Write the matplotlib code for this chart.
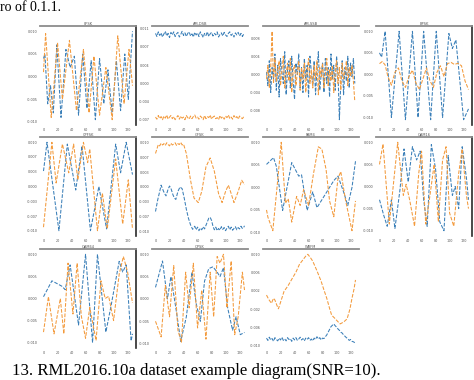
import matplotlib
matplotlib.use('Agg')
import matplotlib.pyplot as plt
import numpy as np

# RML2016.10a example frames (x1e-3)
titles = ['8PSK', 'AM-DSB', 'AM-SSB', 'BPSK', 'CPFSK', 'GFSK',
          'PAM4', 'QAM16', 'QAM64', 'QPSK', 'WBFM']
x_ticks = [0, 20, 40, 60, 80, 100, 120]

# 8PSK
psk8_i_x = [0, 2, 6, 10, 14, 19, 25, 32, 38, 44, 50, 56, 62, 68, 74, 80, 86, 92, 98, 104, 110, 116, 121, 127]
psk8_i = [4, 5, -6, -2, -8, 7, -9, 6, 2, 4.5, -8.5, 5, -7, 3.5, -9.5, 4, -6, 1.5, -8, 3.5, -7.5, 5, -5, 10]
psk8_q_x = [0, 3, 11, 20, 27, 37, 47, 57, 65, 72, 80, 89, 98, 106, 115, 122, 127]
psk8_q = [1, 9.5, -9, 7.5, -5, 8, -7.5, 6, -8, 4.5, -8.5, 2, -9.5, 9, -6, 6, -2]

# AM-DSB (every 2nd sample)
amdsb_i = [9.6, 9.0, 9.9, 9.2, 9.7, 8.9, 9.5, 10.0, 9.1, 9.6, 8.8, 9.8, 9.3, 9.9, 9.0, 9.5,
           9.8, 8.9, 9.4, 10.0, 9.2, 9.7, 9.0, 9.6, 9.9, 9.1, 9.5, 8.9, 9.8, 9.3, 9.7, 9.0,
           9.9, 9.4, 8.8, 9.6, 9.2, 9.9, 9.0, 9.5, 9.8, 9.1, 9.6, 9.3, 9.9, 8.9, 9.4, 9.7,
           9.1, 9.8, 9.3, 9.0, 9.6, 9.9, 9.2, 9.5, 8.9, 9.7, 9.3, 9.8, 9.1, 9.6, 9.0, 9.5]
amdsb_q = [-6.5, -6.9, -6.2, -6.8, -6.4, -7.0, -6.3, -6.7, -6.1, -6.9, -6.5, -6.2, -6.8, -6.4, -7.0, -6.6,
           -6.2, -6.9, -6.3, -6.7, -6.5, -7.0, -6.2, -6.6, -6.9, -6.3, -6.8, -6.4, -6.1, -6.7, -6.5, -6.9,
           -6.3, -6.6, -7.0, -6.2, -6.8, -6.4, -6.6, -6.1, -6.9, -6.5, -6.3, -6.8, -6.6, -7.0, -6.2, -6.7,
           -6.4, -6.9, -6.3, -6.6, -6.1, -6.8, -6.5, -6.9, -6.2, -6.7, -6.4, -6.9, -6.3, -6.6, -6.8, -6.4]

# AM-SSB (every 2nd sample)
amssb_i = [0.5, -2.5, 3.0, -4.0, 1.5, -1.0, 4.5, -3.5, 2.0, -5.0, 3.5, 0.5, -2.0, 5.0, -4.5, 1.0,
           3.0, -3.0, 4.0, -1.5, -5.5, 2.5, 0.0, 4.5, -3.0, 1.5, -4.0, 3.5, -1.0, 2.0, -5.0, 4.0,
           0.5, -2.5, 3.0, -4.5, 1.0, 5.0, -3.5, 0.0, 2.5, -4.0, 3.5, -2.0, 1.5, -5.0, 4.5, -1.0,
           2.0, -3.5, 4.0, 0.5, -10.0, -2.0, 3.0, -4.5, 1.5, -1.5, 4.0, -3.0, 2.5, -0.5, 3.5, -2.0]
amssb_q = [-1.0, 2.0, -3.0, 1.5, 9.5, -2.0, 3.5, -1.5, 0.5, 3.0, -2.5, 1.0, 4.0, -3.0, 0.0, 2.5,
           -1.5, 3.5, -4.0, 1.0, 2.0, -2.5, 0.5, 3.0, -3.5, 1.5, -1.0, 2.5, -4.0, 0.5, 3.5, -2.0,
           1.0, -3.0, 2.0, -1.0, 3.0, -4.5, 1.5, -0.5, 2.5, -3.0, 0.0, 3.5, -2.5, 1.0, -1.5, 2.0,
           -4.0, 0.5, 3.0, -2.0, 1.5, -3.5, 2.5, -1.0, 0.5, 3.0, -2.5, 1.5, -0.5, 2.0, -1.5, -6.0]

# BPSK
bpsk_i_x = [0, 3, 8, 17, 28, 37, 47, 55, 63, 73, 81, 90, 99, 104, 109, 120, 127]
bpsk_i = [5, 4, 10, -10, 10, -10.5, 10, -10, 10, -10.5, 10, -10, 9.5, 6, 8, -10.5, -8]
bpsk_q_x = [0, 4, 8, 12, 17, 22, 27, 32, 37, 42, 47, 52, 57, 62, 67, 72, 77, 82, 87, 92, 97, 102, 107, 112, 117, 122, 127]
bpsk_q = [2.5, 3.0, 2.2, -0.5, -2.5, 0.5, 1.5, -1.5, -3.0, -0.5, 1.0, -2.0, -3.5, -1.0, 1.5, -1.5,
          -3.0, 0.5, 2.0, -0.5, 2.5, 2.8, 2.3, 2.6, 2.0, -1.5, -3.5]

# CPFSK
cpfsk_i_x = [0, 5, 22, 34, 46, 55, 67, 79, 90, 103, 110, 118, 127]
cpfsk_i = [3.5, 10, -10, 9.6, -0.8, 9.2, -10, 0, -9.6, 9.6, 3.1, 10, 2.7]
cpfsk_q_x = [0, 12, 18, 27, 36, 43, 49, 57, 63, 66, 77, 84, 91, 103, 113, 121, 127]
cpfsk_q = [-9.2, 10, 0.8, 9.6, 3.1, 9.6, 1.5, 10, 5.4, 8.5, -10, -1.5, -9.6, 6.2, -8.5, 1.5, -9.6]

# GFSK
gfsk_i_x = [0, 3, 6, 8, 11, 13, 15, 18, 20, 22, 25, 27, 29, 32, 35, 38, 41, 44, 47, 50, 53, 56, 58,
            60, 62, 64, 66, 68, 70, 72, 74, 76, 78, 80, 82, 84, 86, 88, 90, 92, 94, 96, 98, 100,
            102, 104, 106, 108, 110, 112, 114, 116, 118, 120, 122, 124, 126, 127]
gfsk_i = [-5.5, -3.0, -1.0, 0.4, -0.8, -1.5, -2.0, -0.5, 0.2, -0.3, -1.8, -2.5, -2.8, -1.0, 0.0,
          -0.4, -2.5, -5.0, -7.0, -8.5, -9.5, -8.8, -9.6, -9.0, -9.8, -9.2, -9.6, -8.9, -9.4, -8.6,
          -7.8, -7.0, -6.8, -7.5, -8.8, -9.6, -9.0, -9.8, -9.3, -9.7, -8.9, -9.5, -9.1, -9.8, -9.2,
          -8.8, -9.6, -9.0, -9.7, -9.3, -8.9, -9.6, -9.1, -9.4, -8.8, -9.3, -9.0, -8.7]
gfsk_q_x = [0, 2, 4, 6, 8, 10, 12, 14, 16, 18, 20, 22, 24, 26, 28, 30, 32, 34, 36, 38, 40,
            44, 50, 55, 61, 66, 72, 78, 84, 90, 95, 100, 104, 108, 112, 118, 123, 127]
gfsk_q = [7.5, 8.5, 9.5, 9.2, 9.8, 9.4, 9.7, 9.3, 9.9, 9.5, 9.2, 9.8, 9.4, 9.6, 9.9, 9.3, 9.7,
          9.5, 10.0, 9.4, 9.6, 7.5, 1.5, -2.5, -3.5, -1.0, 4.5, 6.5, 3.5, -1.5, -3.5, -1.0, 0.4,
          -1.5, -3.5, -1.0, 1.5, 0.5]

# PAM4
pam4_i_x = [0, 10, 14, 23, 36, 46, 50, 58, 66, 72, 82, 96, 102, 110, 116, 122, 127]
pam4_i = [5.1, 6.6, 4.7, -5.1, 5.5, 2.5, 2.8, -5.1, -1, -4.5, -2, 1.5, 2.5, -1, -4, 0, 5.8]
pam4_q_x = [0, 2, 9, 15, 21, 27, 31, 36, 43, 48, 53, 60, 67, 74, 79, 85, 90, 96, 102, 106, 113, 122, 127]
pam4_q = [-5, -6.6, -9.6, 0, 10, -3.5, -2.5, -7.7, -2, -4, -0.5, -4, 3, 9, 8.5, 4, -3, -6.5, 2, 3.5, -3, -9.6, -3]

# QAM16
qam16_i_x = [0, 6, 11, 17, 22, 29, 35, 41, 47, 53, 58, 63, 68, 74, 80, 86, 92, 98, 104, 108, 113, 118, 124, 127]
qam16_i = [-3, -6.5, -9, -3, -9.5, -1, 8.5, 1, 9, 6, 8, -3, -9, 9.5, 4, -8, -10, 7, -2, 0, -5, 9, 2, -3]
qam16_q_x = [0, 5, 14, 26, 34, 38, 43, 50, 56, 60, 66, 72, 78, 84, 90, 95, 100, 106, 113, 118, 124, 127]
qam16_q = [5, 9.6, -8.5, 10, -2, 0.5, -3, -9, 3, 8, -8.5, -2, 5, -8, 6, 9, -6, -9, 3, 8.5, -2, -5]

# QAM64
qam64_i_x = [0, 12, 26, 31, 38, 50, 60, 70, 77, 89, 96, 108, 113, 118, 125, 127]
qam64_i = [0.4, 4, 2.8, 2, 7.6, -6, 10, -10, 10, -7.6, -2, 8.4, 6, 7.6, -9.6, -8]
qam64_q_x = [0, 7, 15, 24, 29, 35, 42, 48, 54, 60, 66, 75, 82, 88, 93, 100, 108, 114, 120, 127]
qam64_q = [-7.6, 0.4, -8, 0, -8, 8, -3.5, 8, -4, -9, -2, -9.5, 4, 0, 0.5, -5, 5.5, 9.5, 6, -1]

# QPSK
qpsk_i_x = [0, 10, 17, 22, 30, 36, 44, 52, 58, 64, 70, 76, 82, 88, 92, 97, 103, 110, 115, 121, 127]
qpsk_i = [2.6, 8.5, 0, 5, -3, -9.5, -4, 6, -1, -5, 4, 6.8, 7.2, 6, 5, 7, -2, -7, -4, -8, -7.5]
qpsk_q_x = [0, 8, 14, 20, 26, 32, 37, 43, 48, 54, 60, 66, 72, 78, 83, 88, 92, 97, 102, 108, 113, 118, 124, 127]
qpsk_q = [-5, -8.5, 3, -4, 7.5, -7, -9.8, 6, -2, 8, -6.5, 2, -9, 6, -4, 9.5, 8, 10, -2, 8.5, -8, -4, 6, 2]

# WBFM
wbfm_i = [-8.3, -8.8, -8.1, -8.7, -8.4, -9.0, -8.2, -8.6, -8.9, -8.3, -8.7, -8.1, -8.8, -8.5, -8.9, -8.2,
          -8.6, -8.4, -9.0, -8.3, -8.7, -8.2, -8.8, -8.5, -8.1, -8.7, -8.4, -8.9, -8.3, -8.6, -8.2, -8.8,
          -8.5, -8.9, -8.3, -8.6, -8.0, -8.5, -8.2, -8.7, -8.3, -8.4, -8.0, -7.6, -7.0, -6.4, -5.8, -5.5,
          -5.2, -5.6, -5.9, -6.3, -6.6, -7.0, -7.2, -7.6, -7.9, -8.2, -8.4, -8.8, -8.6, -9.0, -9.1, -9.3]
wbfm_q_x = [0, 3, 7, 10, 12, 15, 17, 20, 25, 31, 37, 42, 47, 52, 56, 59, 63, 66, 72, 78, 82, 86,
            90, 93, 97, 100, 105, 110, 115, 119, 122, 125, 127]
wbfm_q = [1.1, 0.2, -0.7, 0.4, 0.0, -1.2, -1.9, -0.5, 1.9, 3.2, 4.8, 6.1, 7.8, 8.8, 9.6, 10.0, 9.2,
          8.5, 6.4, 4.1, 2.2, 0.4, -1.8, -3.3, -3.9, -4.4, -5.2, -4.8, -4.1, -2.0, 0.4, 2.5, 4.4]

# (I-x, I, Q-x, Q) per panel, None -> every 2nd sample
series = [
    (psk8_i_x, psk8_i, psk8_q_x, psk8_q),
    (None, amdsb_i, None, amdsb_q),
    (None, amssb_i, None, amssb_q),
    (bpsk_i_x, bpsk_i, bpsk_q_x, bpsk_q),
    (cpfsk_i_x, cpfsk_i, cpfsk_q_x, cpfsk_q),
    (gfsk_i_x, gfsk_i, gfsk_q_x, gfsk_q),
    (pam4_i_x, pam4_i, pam4_q_x, pam4_q),
    (qam16_i_x, qam16_i, qam16_q_x, qam16_q),
    (qam64_i_x, qam64_i, qam64_q_x, qam64_q),
    (qpsk_i_x, qpsk_i, qpsk_q_x, qpsk_q),
    (None, wbfm_i, wbfm_q_x, wbfm_q),
]
y_ticks = [
    [-10, -5, 0, 5, 10],
    [-7, -3.5, 0, 3.5, 7, 10.5],
    [-8, -4, 0, 4, 8],
    [-10, -5, 0, 5, 10],
    [-10, -6.7, -3.3, 0, 3.3, 6.7, 10],
    [-10, -6.7, -3.3, 0, 3.3, 6.7, 10],
    [-10, -5, 0, 5, 10],
    [-10, -5, 0, 5, 10],
    [-10, -5, 0, 5, 10],
    [-10, -5, 0, 5, 10],
    [-10, -6, -2, 2, 6, 10],
]

W, H = 474, 380
fig = plt.figure(figsize=(W / 100, H / 100), dpi=100)

col_left = [40, 152, 263, 376]
row_top = [26, 137, 249]
pw, ph = 96, 99

blue = '#3a7fb8'
orange = '#f39a3c'

for k, name in enumerate(titles):
    r, c = divmod(k, 4)
    ax = fig.add_axes([col_left[c] / W, 1 - (row_top[r] + ph) / H, pw / W, ph / H])
    xi, yi, xq, yq = series[k]
    if xi is None:
        xi = np.arange(len(yi)) * 2
    if xq is None:
        xq = np.arange(len(yq)) * 2
    ax.plot(xi, np.array(yi) * 1e-3, color=blue, lw=0.75, ls=(0, (3.5, 1.5)))
    ax.plot(xq, np.array(yq) * 1e-3, color=orange, lw=0.75, ls=(0, (3.5, 1.5)))

    yt = np.array(y_ticks[k]) * 1e-3
    ax.set_yticks(yt)
    ax.set_yticklabels([f'{v:.3f}' for v in yt])
    ax.set_xticks(x_ticks)
    ax.set_xlim(-5, 132)
    lo = min(min(yi), min(yq))
    hi = max(max(yi), max(yq))
    pad = (hi - lo) * 0.06
    ax.set_ylim((lo - pad) * 1e-3, (hi + pad) * 1e-3)
    ax.tick_params(length=0, labelsize=2.4, labelcolor='#555555', pad=2)

    for s in ['left', 'bottom', 'right']:
        ax.spines[s].set_visible(False)
    ax.spines['top'].set_color('#8c8c8c')
    ax.spines['top'].set_linewidth(1.3)
    if c in (0, 3):
        ax.spines['right'].set_visible(True)
        ax.spines['right'].set_color('#2a2a2a')
        ax.spines['right'].set_linewidth(1.2)
    ax.set_title(name, fontsize=2.6, color='#555555', pad=1)

# surrounding text of the scanned page
fig.text(0.0, 1 - 11 / H, 'ro of 0.1.1.', fontsize=10, family='Liberation Serif', va='baseline')
fig.text(12 / W, 1 - 375 / H, '13. RML2016.10a dataset example diagram(SNR=10).',
         fontsize=12.1, family='Liberation Serif', va='baseline')

plt.savefig('out.png', dpi=100)
plt.close()
